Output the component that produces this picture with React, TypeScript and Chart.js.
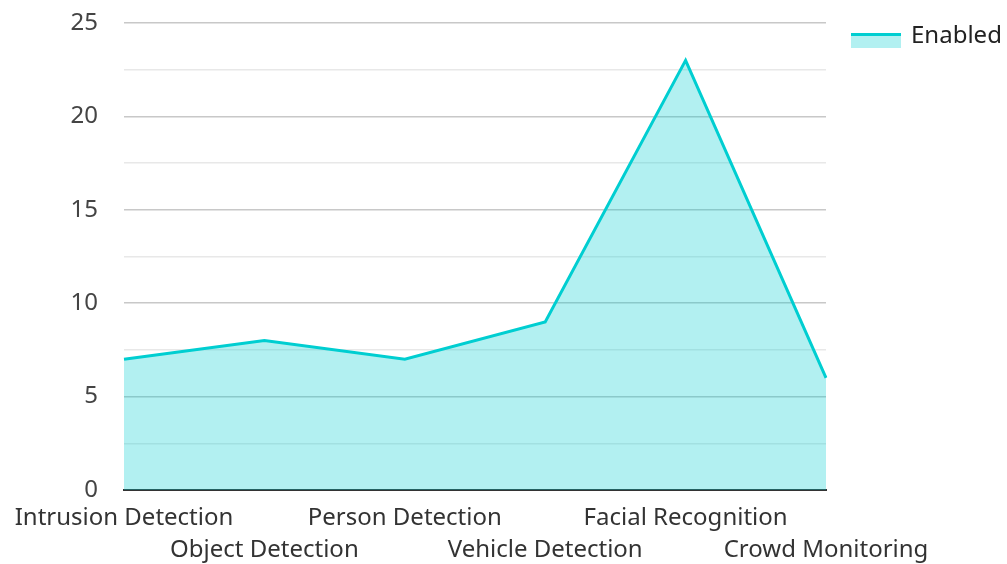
import React, { useEffect, useRef } from "react";
import { Chart, registerables } from "chart.js";

Chart.register(...registerables);

const categories = [
  "Intrusion Detection",
  "Object Detection",
  "Person Detection",
  "Vehicle Detection",
  "Facial Recognition",
  "Crowd Monitoring",
];
const enabledValues = [7, 8, 7, 9, 23, 6];
const seriesLabel = "Enabled";

const LINE = "rgb(0,206,209)";
const FILL = "rgba(0,206,209,0.3)";
const FONT = "'Noto Sans', 'Open Sans', sans-serif";

const legendPlugin = {
  id: "customLegend",
  afterDraw(chart: any) {
    const ctx = chart.ctx;
    const x = 851;
    const y = 33;
    ctx.save();
    ctx.fillStyle = FILL;
    ctx.fillRect(x, y, 50, 15);
    ctx.fillStyle = LINE;
    ctx.fillRect(x, y, 50, 3);
    ctx.fillStyle = "#222";
    ctx.font = `24px ${FONT}`;
    ctx.textBaseline = "middle";
    ctx.textAlign = "left";
    ctx.fillText(seriesLabel, 911, 36);
    ctx.restore();
  },
};

export default function App() {
  const ref = useRef<HTMLCanvasElement | null>(null);
  useEffect(() => {
    document.body.style.margin = "0";
    const chart = new Chart(ref.current as HTMLCanvasElement, {
      type: "line",
      data: {
        labels: categories,
        datasets: [
          {
            label: seriesLabel,
            data: enabledValues,
            borderColor: LINE,
            backgroundColor: FILL,
            borderWidth: 3,
            fill: "origin",
            pointRadius: 0,
            tension: 0,
          },
        ],
      },
      options: {
        animation: false,
        responsive: false,
        maintainAspectRatio: false,
        layout: { padding: { top: 23, right: 181, left: 0, bottom: 0 } },
        plugins: { legend: { display: false }, tooltip: { enabled: false } },
        scales: {
          x: {
            offset: false,
            grid: { display: false, drawTicks: false },
            border: { display: true, color: "#333", width: 2 },
            ticks: {
              autoSkip: false,
              maxRotation: 0,
              minRotation: 0,
              padding: 12,
              color: "#333",
              font: { family: FONT, size: 24, lineHeight: 1.35 },
              callback: (_v: any, i: number) =>
                i % 2 ? ["", categories[i]] : categories[i],
            },
            afterFit: (s: any) => {
              s.height = 74;
              s.paddingTop = 0;
              s.paddingBottom = 0;
              s.paddingLeft = 0;
              s.paddingRight = 0;
            },
          },
          y: {
            min: 0,
            max: 25,
            border: { display: false },
            grid: {
              drawTicks: false,
              color: (c: any) =>
                c.tick && c.tick.value % 5 === 0 ? "#c8c8c8" : "#e8e8e8",
              lineWidth: 1.5,
            },
            ticks: {
              stepSize: 2.5,
              padding: 26,
              color: "#444",
              font: { family: FONT, size: 24 },
              callback: (v: any) => (Number(v) % 5 === 0 ? String(v) : ""),
            },
            afterFit: (s: any) => {
              s.width = 124;
              s.paddingTop = 0;
              s.paddingBottom = 0;
            },
          },
        },
      },
      plugins: [legendPlugin],
    });
    return () => chart.destroy();
  }, []);
  return (
    <div style={{ width: 1007, height: 564 }}>
      <canvas ref={ref} width={1007} height={564} />
    </div>
  );
}
